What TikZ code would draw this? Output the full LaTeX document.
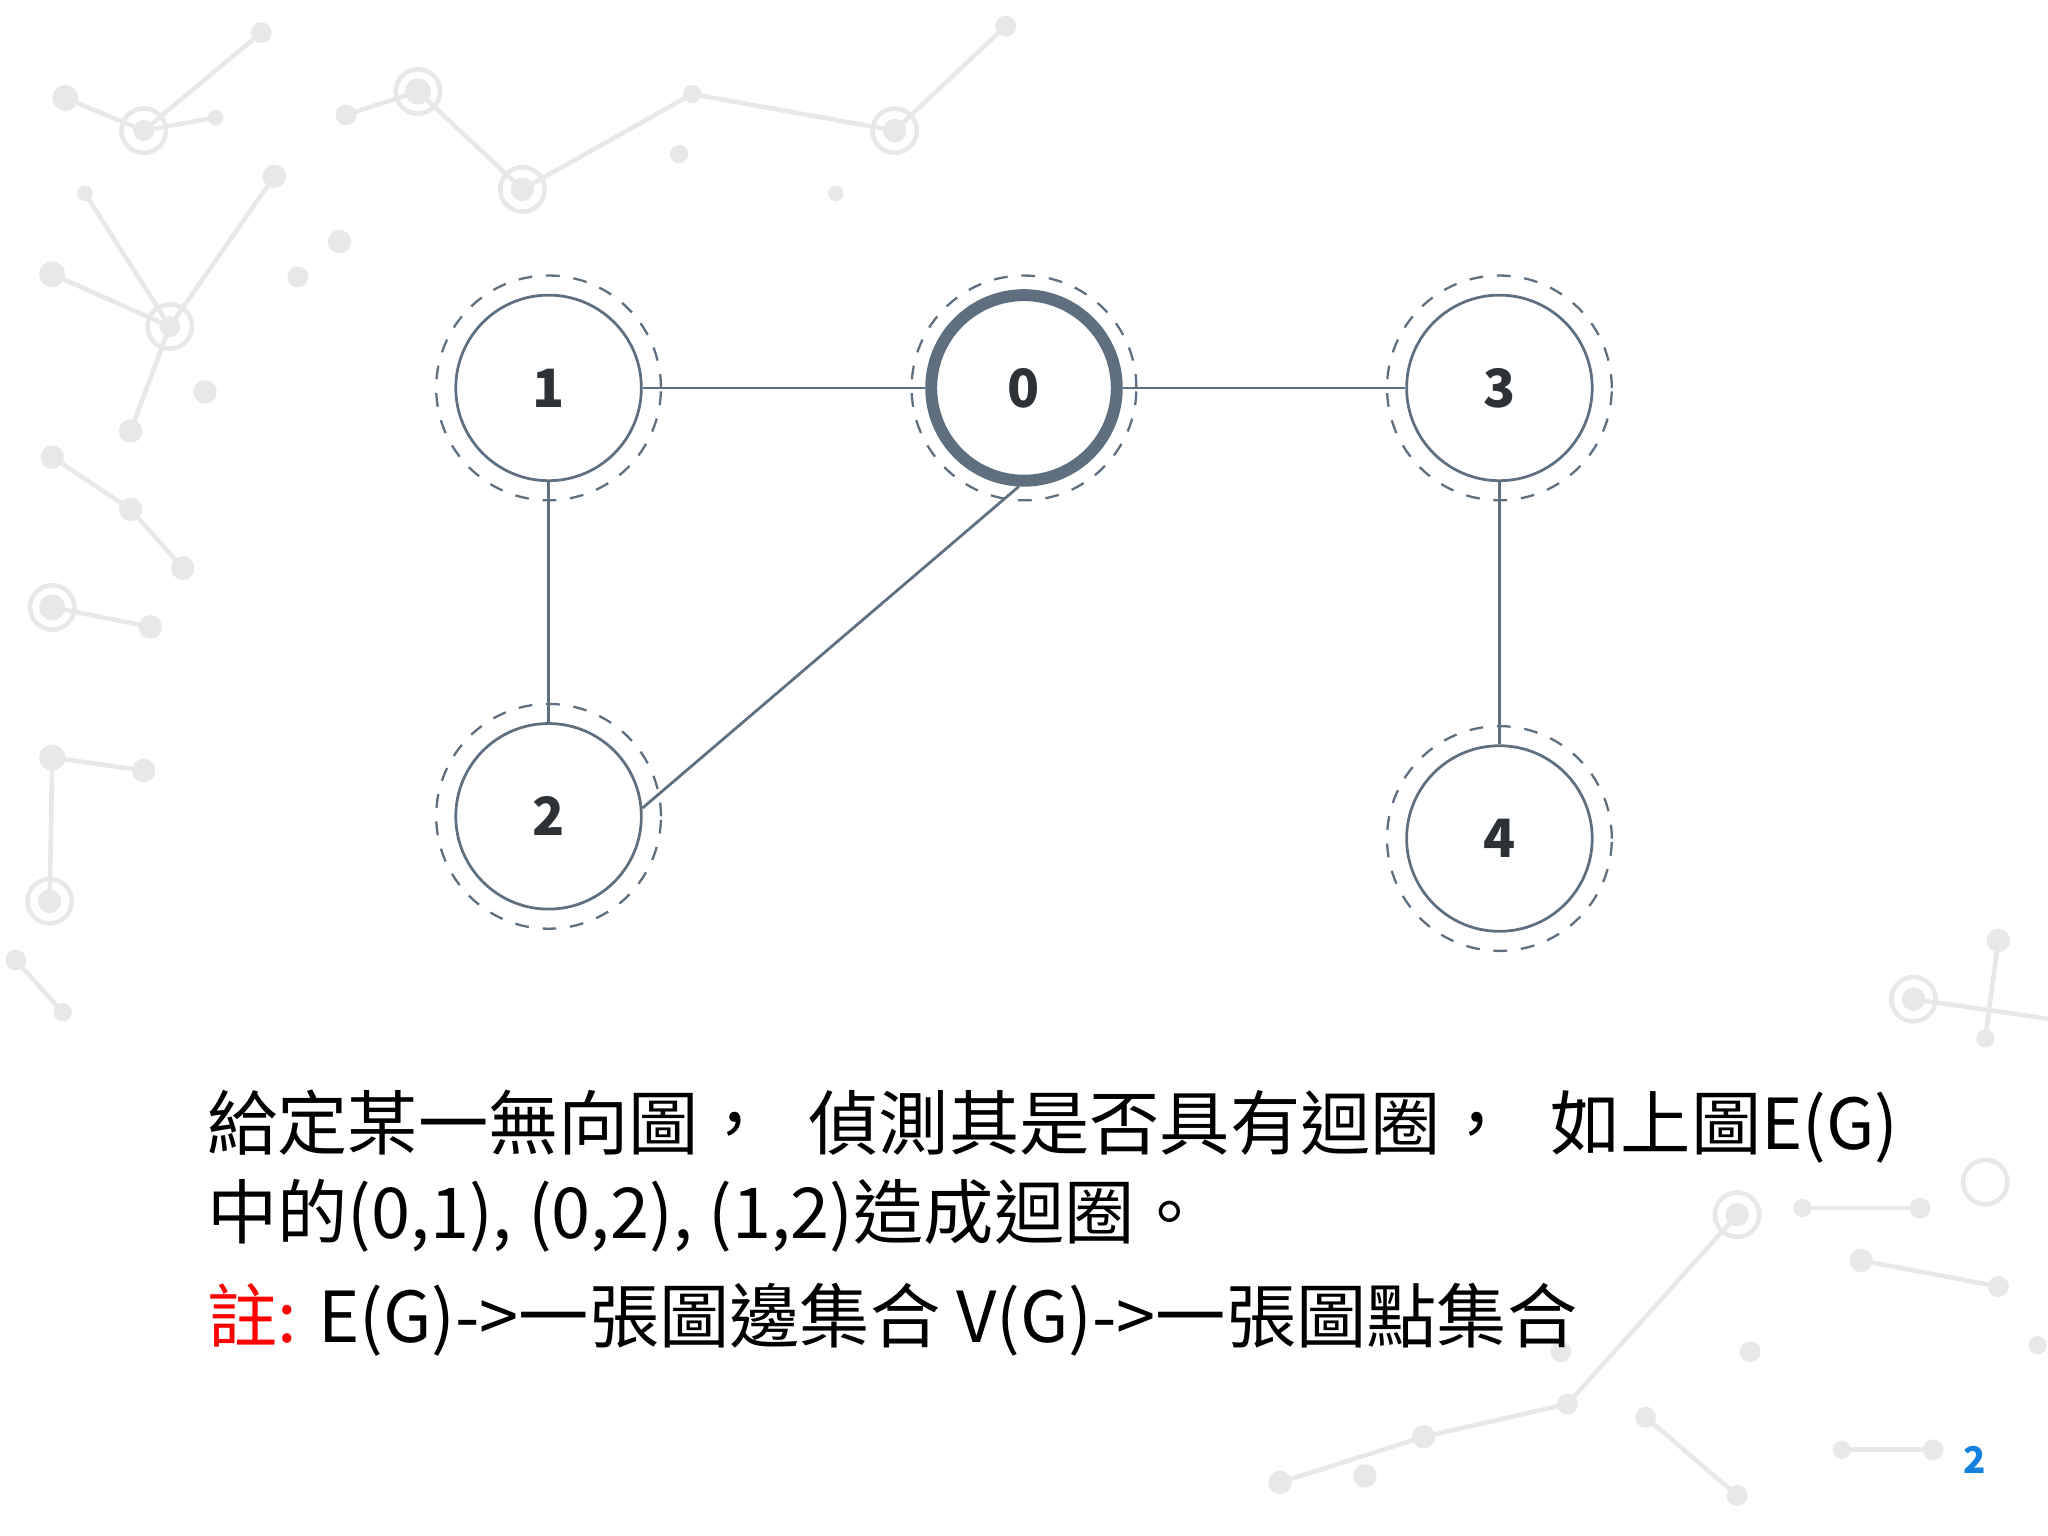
\documentclass[tikz,border=0pt]{standalone}
\usepackage{fontspec}
\setmainfont{Noto Sans CJK TC}
\definecolor{edge}{RGB}{94,112,128}
\definecolor{deco}{RGB}{230,232,234}
\definecolor{lab}{RGB}{45,50,55}
\definecolor{pgblue}{RGB}{20,130,220}
\begin{document}
\begin{tikzpicture}[x=0.01cm,y=-0.01cm,
  vtx/.style={circle,draw=edge,line width=0.6pt,minimum size=1.42cm,inner sep=0pt,text=lab,font=\fontsize{11.5}{11.5}\selectfont\bfseries},
  halo/.style={circle,draw=edge,dashed,line width=0.5pt,minimum size=1.72cm},
  ed/.style={draw=edge,line width=0.6pt},
  dl/.style={draw=deco,line width=1pt}]
\useasboundingbox (0,0) rectangle (1568,1176);
% decorative network
\foreach \a/\b in {{50,75}/{110,100},{110,100}/{200,25},{110,100}/{165,90},{65,148}/{130,250},{130,250}/{210,135},{130,250}/{40,210},{130,250}/{100,330},{265,88}/{320,70},{320,70}/{400,145},{400,145}/{530,72},{530,72}/{685,100},{685,100}/{770,20},{40,350}/{100,390},{100,390}/{140,435},{40,465}/{115,480},{40,580}/{110,590},{40,580}/{38,690},{12,735}/{48,775},{1530,720}/{1520,795},{1465,765}/{1568,780},{1380,925}/{1470,925},{1330,930}/{1200,1075},{1200,1075}/{1090,1100},{1090,1100}/{980,1135},{1260,1085}/{1330,1145},{1410,1110}/{1480,1110},{1425,965}/{1530,985}}
  \draw[dl] (\a) -- (\b);
\foreach \p/\r in {{50,75}/10,{110,100}/8,{200,25}/8,{165,90}/6,{65,148}/6,{130,250}/8,{210,135}/9,{40,210}/10,{100,330}/9,{265,88}/8,{320,70}/10,{400,145}/9,{530,72}/7,{685,100}/9,{770,20}/8,{40,350}/9,{100,390}/9,{140,435}/9,{40,465}/10,{115,480}/9,{40,580}/10,{110,590}/9,{38,690}/9,{12,735}/8,{48,775}/7,{157,300}/9,{260,185}/9,{228,212}/8,{520,118}/7,{640,148}/6,{1530,720}/9,{1520,795}/7,{1465,765}/9,{1380,925}/7,{1470,925}/8,{1330,930}/9,{1200,1075}/8,{1090,1100}/9,{980,1135}/9,{1260,1085}/8,{1330,1145}/8,{1410,1110}/7,{1480,1110}/8,{1425,965}/9,{1530,985}/8,{1045,1130}/9,{1340,1035}/8,{1195,1035}/8,{1560,1030}/7}
  \fill[deco] (\p) circle [radius=\r];
\foreach \p in {{110,100},{320,70},{400,145},{685,100},{130,250},{40,465},{38,690},{1465,765},{1520,905},{1330,930}}
  \draw[dl] (\p) circle [radius=17];
% graph
\node[vtx] (n1) at (420,297) {1};
\node[vtx,line width=2.6pt] (n0) at (784,297) {0};
\node[vtx] (n3) at (1148,297) {3};
\node[vtx] (n2) at (420,625) {2};
\node[vtx] (n4) at (1148,642) {4};
\foreach \n in {n0,n1,n2,n3,n4} \node[halo] at (\n) {};
\draw[ed] (n1) -- (n0);
\draw[ed] (n0) -- (n3);
\draw[ed] (n1) -- (n2);
\draw[ed] (n3) -- (n4);
\draw[ed] (n0.-93) -- (n2.5);
% text
\node[anchor=base west,font=\fontsize{15.3}{15.3}\selectfont,inner sep=0pt] (t1) at (158,880) {給定某一無向圖，\hspace{0.3cm}偵測其是否具有迴圈，\hspace{0.3cm}如上圖E(G)};
\node[anchor=base west,font=\fontsize{15.3}{15.3}\selectfont,inner sep=0pt] (t2) at (158,948) {中的(0,1), (0,2), (1,2)造成迴圈。};
\node[anchor=base west,font=\fontsize{15.3}{15.3}\selectfont,inner sep=0pt] (t3) at (158,1028) {\textcolor{red}{註:} E(G)->一張圖邊集合 V(G)->一張圖點集合};
\node[font=\fontsize{8}{8}\selectfont\bfseries,text=pgblue] (pg) at (1512,1118) {2};
\end{tikzpicture}
\end{document}
